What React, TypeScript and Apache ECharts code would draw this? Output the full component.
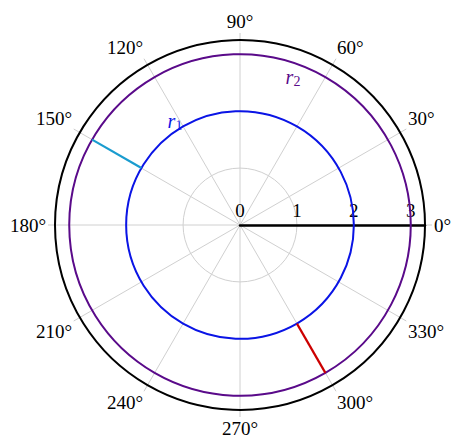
import React, { useEffect, useRef } from "react";
import * as echarts from "echarts";

const radiusTicks = [0, 1, 2, 3];
const radiusMax = 3.25;
const angleStep = 30;
const circleRadii = [2, 3];
const circleColors = ["#0a14e6", "#5a0a8a"];
const segCyan = [[2, 150], [3, 150]];
const segRed = [[2, 300], [3, 300]];
const circleLabels = ["r", "r"];
const circleSubs = ["1", "2"];

export default function App() {
  const ref = useRef<HTMLDivElement>(null);
  useEffect(() => {
    const chart = echarts.init(ref.current!, null, { renderer: "svg" });
    const font = "Liberation Serif";
    const mkLabel = (i: number, x: number, y: number) => ({
      type: "text",
      x,
      y,
      style: {
        text: "{i|" + circleLabels[i] + "}{s|" + circleSubs[i] + "}",
        fill: circleColors[i],
        align: "center",
        verticalAlign: "middle",
        rich: {
          i: { fontFamily: font, fontStyle: "italic", fontSize: 20, fill: circleColors[i] },
          s: { fontFamily: font, fontSize: 14, fill: circleColors[i], padding: [9, 0, 0, 0] },
        },
      },
    });
    chart.setOption({
      animation: false,
      backgroundColor: "#ffffff",
      textStyle: { fontFamily: font },
      polar: { center: [240, 225], radius: 185 },
      angleAxis: {
        type: "value",
        min: 0,
        max: 360,
        interval: angleStep,
        startAngle: 0,
        clockwise: false,
        axisLine: { lineStyle: { color: "#000", width: 2 } },
        axisTick: { show: true, length: 7, lineStyle: { color: "#cccccc", width: 1 } },
        splitLine: { lineStyle: { color: "#d0d0d0", width: 1 } },
        axisLabel: {
          margin: 9,
          fontFamily: font,
          fontSize: 19,
          color: "#000",
          formatter: (v: number) => (v === 360 ? "" : v + "°"),
        },
      },
      radiusAxis: {
        type: "value",
        min: 0,
        max: radiusMax,
        interval: 1,
        axisLine: { lineStyle: { color: "#000", width: 2.5 } },
        axisTick: { show: false },
        splitLine: { lineStyle: { color: "#d0d0d0", width: 1 } },
        axisLabel: {
          fontFamily: font,
          fontSize: 19,
          color: "#000",
          align: "center",
          verticalAlign: "bottom",
          margin: 5,
          formatter: (v: number) => (radiusTicks.includes(v) ? String(v) : ""),
        },
      },
      series: [
        {
          type: "custom",
          coordinateSystem: "polar",
          data: circleRadii.map((r, i) => [r, 0, i]),
          renderItem: (params: any, api: any) => {
            const r = api.value(0);
            const idx = api.value(2);
            const c = api.coord([0, 0]);
            const p = api.coord([r, 0]);
            const rad = Math.hypot(p[0] - c[0], p[1] - c[1]);
            return {
              type: "circle",
              shape: { cx: c[0], cy: c[1], r: rad },
              style: { fill: "none", stroke: circleColors[idx], lineWidth: 2 },
            };
          },
          silent: true,
        },
        {
          type: "line",
          coordinateSystem: "polar",
          data: segCyan,
          symbol: "none",
          lineStyle: { color: "#1a9ccf", width: 2.2 },
        },
        {
          type: "line",
          coordinateSystem: "polar",
          data: segRed,
          symbol: "none",
          lineStyle: { color: "#cc0000", width: 2.2 },
        },
      ],
      graphic: [mkLabel(0, 175, 121), mkLabel(1, 293, 77)],
    });
    return () => chart.dispose();
  }, []);
  return (
    <div
      ref={ref}
      style={{ position: "absolute", left: 0, top: 0, width: 474, height: 445 }}
    />
  );
}
